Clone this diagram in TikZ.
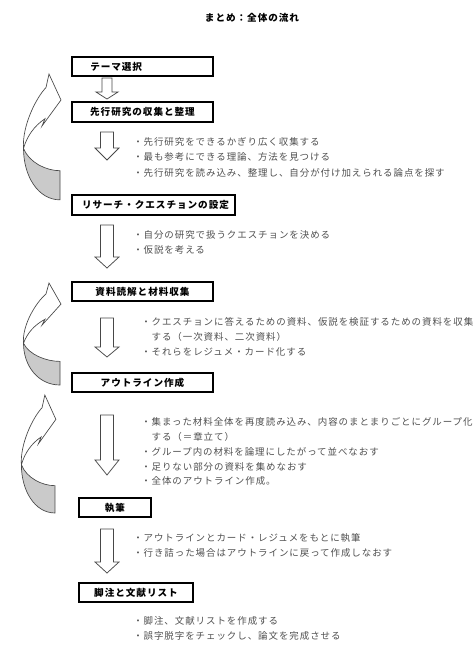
\documentclass[tikz,border=0pt]{standalone}
\usepackage{fontspec}
\newfontfamily\jp{Noto Sans CJK JP}[LetterSpace=10]
\definecolor{txtgray}{HTML}{505050}
\definecolor{arrgray}{HTML}{CACACA}
\definecolor{lnc}{HTML}{484848}
\tikzset{
  boxst/.style={draw=black, line width=1pt, inner sep=0pt, fill=white},
  boxtxt/.style={inner sep=0pt, font=\jp\bfseries\fontsize{7.2pt}{8pt}\selectfont, text=black},
  bl/.style={anchor=west, inner sep=0pt, font=\jp\fontsize{7.1pt}{8pt}\selectfont, text=txtgray},
  blockarr/.style={draw=lnc, line width=0.55pt, fill=white, line join=miter},
  curvst/.style={draw=lnc, line width=0.5pt, line join=miter},
}
% hollow block arrow: cx, top, base, tip, half shaft, half head
\newcommand\blockarrow[6]{%
  \draw[blockarr] ({#1-#5},#2) -- ({#1+#5},#2) -- ({#1+#5},#3) -- ({#1+#6},#3)
    -- (#1,#4) -- ({#1-#6},#3) -- ({#1-#5},#3) -- cycle;}
% curved return arrow: x0, y0, xscale, yscale
\newcommand\curvarrow[4]{%
  \begin{scope}[shift={(#1,#2)}, xscale=#3, yscale=#4]
    \filldraw[curvst, fill=arrgray] (1.5,71.5) .. controls (1.5,98) and (16,121) .. (38,121)
      -- (38,93) .. controls (24,93) and (7,85) .. (1.5,71.5) -- cycle;
    \filldraw[curvst, fill=white] (1.5,71.5) .. controls (0,50) and (14,23) .. (24,13)
      -- (27,0) -- (39,25) -- (20,50) -- (23,43) .. controls (12,50) and (5,60) .. (1.5,71.5) -- cycle;
  \end{scope}}
\begin{document}
\begin{tikzpicture}[x=0.75pt, y=-0.75pt]
  \clip (0,0) rectangle (474,669);
  \fill[white] (0,0) rectangle (474,669);

  % title
  \node[boxtxt] (title) at (252,18) {まとめ：全体の流れ};

  % curved return arrows
  \curvarrow{22}{74}{1}{1.04}
  \curvarrow{22}{283}{1}{0.843}
  \curvarrow{20}{395}{0.92}{0.975}

  % boxes
  \node[boxst, minimum width=141*0.75pt, minimum height=19*0.75pt] (b1) at (142.5,66.5) {};
  \node[boxtxt, anchor=west] (t1) at (90,66.5) {テーマ選択};
  \node[boxst, minimum width=141*0.75pt, minimum height=20*0.75pt] (b2) at (142.5,112) {};
  \node[boxtxt] (t2) at (b2.center) {先行研究の収集と整理};
  \node[boxst, minimum width=163*0.75pt, minimum height=20*0.75pt] (b3) at (153.5,205) {};
  \node[boxtxt] (t3) at (155.5,205) {リサーチ・クエスチョンの設定};
  \node[boxst, minimum width=141*0.75pt, minimum height=19*0.75pt] (b4) at (142.5,291.5) {};
  \node[boxtxt] (t4) at (b4.center) {資料読解と材料収集};
  \node[boxst, minimum width=141*0.75pt, minimum height=19*0.75pt] (b5) at (142.5,382.5) {};
  \node[boxtxt] (t5) at (b5.center) {アウトライン作成};
  \node[boxst, minimum width=72*0.75pt, minimum height=19*0.75pt] (b6) at (115,507.5) {};
  \node[boxtxt] (t6) at (b6.center) {執筆};
  \node[boxst, minimum width=114*0.75pt, minimum height=19*0.75pt] (b7) at (136,592.5) {};
  \node[boxtxt] (t7) at (b7.center) {脚注と文献リスト};

  % straight block arrows
  \blockarrow{107}{78}{92}{99}{5}{11}
  \blockarrow{107}{132}{148}{160}{6.5}{12}
  \blockarrow{107}{225}{257}{268}{6.5}{12}
  \blockarrow{107}{318}{347}{357}{6.5}{12}
  \blockarrow{107}{415}{460}{475}{6.5}{12}
  \blockarrow{107}{529}{562}{573}{6.5}{12}

  % bullet texts
  \node[bl] (s1a) at (133,142) {・先行研究をできるかぎり広く収集する};
  \node[bl] (s1b) at (133,157) {・最も参考にできる理論、方法を見つける};
  \node[bl] (s1c) at (133,173) {・先行研究を読み込み、整理し、自分が付け加えられる論点を探す};

  \node[bl] (s2a) at (133,235) {・自分の研究で扱うクエスチョンを決める};
  \node[bl] (s2b) at (133,250) {・仮説を考える};

  \node[bl] (s3a) at (141,322) {・クエスチョンに答えるための資料、仮説を検証するための資料を収集};
  \node[bl] (s3b) at (151.4,337) {する（一次資料、二次資料）};
  \node[bl] (s3c) at (141,352) {・それらをレジュメ・カード化する};

  \node[bl] (s4a) at (141,422) {・集まった材料全体を再度読み込み、内容のまとまりごとにグループ化};
  \node[bl] (s4b) at (151.4,437) {する（＝章立て）};
  \node[bl] (s4c) at (141,452) {・グループ内の材料を論理にしたがって並べなおす};
  \node[bl] (s4d) at (141,467) {・足りない部分の資料を集めなおす};
  \node[bl] (s4e) at (141,481) {・全体のアウトライン作成。};

  \node[bl] (s5a) at (133,538) {・アウトラインとカード・レジュメをもとに執筆};
  \node[bl] (s5b) at (133,553) {・行き詰った場合はアウトラインに戻って作成しなおす};

  \node[bl] (s6a) at (133,621) {・脚注、文献リストを作成する};
  \node[bl] (s6b) at (133,636) {・誤字脱字をチェックし、論文を完成させる};
\end{tikzpicture}
\end{document}
